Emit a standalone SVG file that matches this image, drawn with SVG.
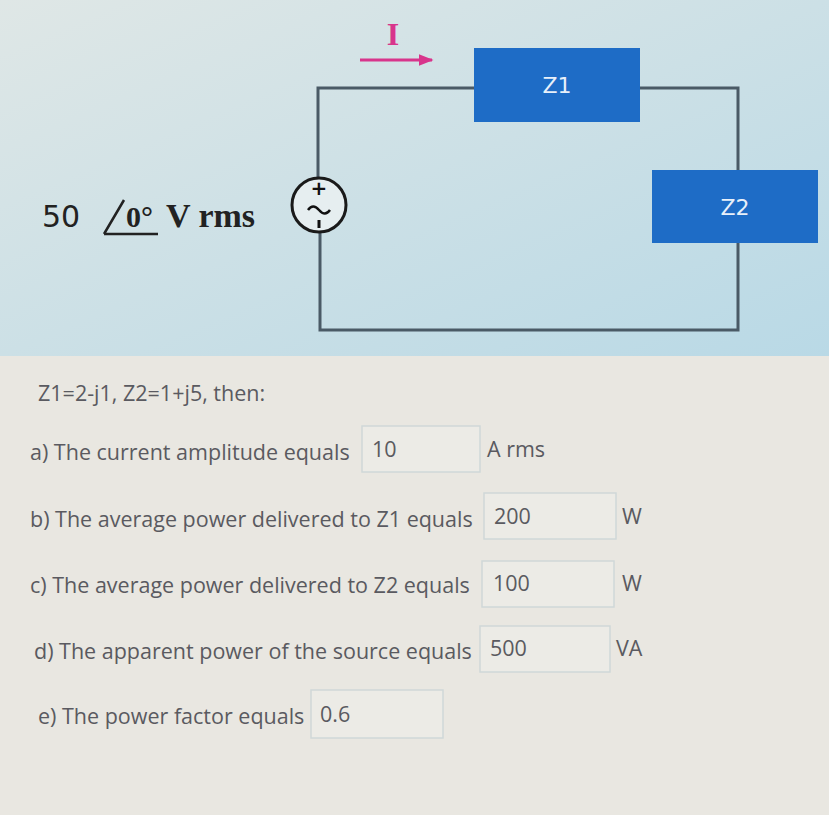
<svg xmlns="http://www.w3.org/2000/svg" width="829" height="815" viewBox="0 0 829 815">
<defs>
<linearGradient id="bg" x1="0" y1="0" x2="1" y2="1"><stop offset="0" stop-color="#dfe7e6"/><stop offset="1" stop-color="#b9d9e6"/></linearGradient>
<marker id="ah" viewBox="0 0 10 10" refX="9" refY="5" markerWidth="5" markerHeight="5" orient="auto"><path d="M0,1 L10,5 L0,9 z" fill="#d8358c"/></marker>
</defs>
<style>
.w{fill:none;stroke:#4a5a66;stroke-width:3}
.z{fill:#1e6cc6}
.zt{font-family:"DejaVu Sans",sans-serif;font-size:22px;fill:#e8f0fa;text-anchor:middle}
.q{font-family:"Open Sans","Liberation Sans",sans-serif;font-size:21.5px;fill:#5a5a60}
.box{fill:#ecebe6;stroke:#cfd8d8;stroke-width:1.5}
</style>
<rect width="829" height="815" fill="#e9e7e1"/>
<rect width="829" height="356" fill="url(#bg)"/>
<g id="connectors">
<polyline class="w" points="318,178 318,88 474,88"/>
<polyline class="w" points="640,88 738,88 738,170"/>
<polyline class="w" points="738,243 738,330 320,330 320,232"/>
<line x1="360" y1="60" x2="432" y2="60" stroke="#d8358c" stroke-width="3" marker-end="url(#ah)"/>
</g>
<text x="393" y="45" font-family="Liberation Serif,serif" font-weight="bold" font-size="32" fill="#d8358c" text-anchor="middle">I</text>
<g id="Z1"><rect class="z" x="474" y="48" width="166" height="74"/><text class="zt" x="557" y="93">Z1</text></g>
<g id="Z2"><rect class="z" x="652" y="170" width="166" height="73"/><text class="zt" x="735" y="215">Z2</text></g>
<g id="source">
<circle cx="319" cy="205" r="27" fill="#e6eef0" stroke="#1a1a1a" stroke-width="3"/>
<text x="319" y="195" font-family="DejaVu Sans,sans-serif" font-size="20" font-weight="bold" text-anchor="middle" fill="#111">+</text>
<path d="M308,210 q5,-7 11,0 t11,0" fill="none" stroke="#111" stroke-width="2.5"/>
<line x1="319" y1="220" x2="319" y2="228" stroke="#111" stroke-width="3"/>
<text font-family="DejaVu Sans,sans-serif" font-size="30" fill="#222" x="42" y="227">50</text>
<path d="M104,234 L124,200 M104,234 L158,234" stroke="#222" stroke-width="2.5" fill="none"/>
<text x="126" y="227" font-family="Liberation Serif,serif" font-weight="bold" font-size="30" fill="#222">0°</text>
<text x="166" y="227" font-family="Liberation Serif,serif" font-weight="bold" font-size="34" fill="#222">V rms</text>
</g>
<text class="q" x="38" y="401">Z1=2-j1, Z2=1+j5, then:</text>
<text class="q" x="30" y="460">a) The current amplitude equals</text>
<rect class="box" x="362" y="426" width="118" height="46"/>
<text class="q" x="372" y="457">10</text>
<text class="q" x="487" y="457">A rms</text>
<text class="q" x="30" y="527">b) The average power delivered to Z1 equals</text>
<rect class="box" x="484" y="493" width="132" height="46"/>
<text class="q" x="494" y="524">200</text>
<text class="q" x="622" y="524">W</text>
<text class="q" x="30" y="593">c) The average power delivered to Z2 equals</text>
<rect class="box" x="482" y="561" width="132" height="46"/>
<text class="q" x="493" y="591">100</text>
<text class="q" x="622" y="591">W</text>
<text class="q" x="34" y="659">d) The apparent power of the source equals</text>
<rect class="box" x="480" y="626" width="130" height="46"/>
<text class="q" x="490" y="656">500</text>
<text class="q" x="616" y="656">VA</text>
<text class="q" x="38" y="724">e) The power factor equals</text>
<rect class="box" x="311" y="690" width="132" height="48"/>
<text class="q" x="320" y="722">0.6</text>
</svg>
